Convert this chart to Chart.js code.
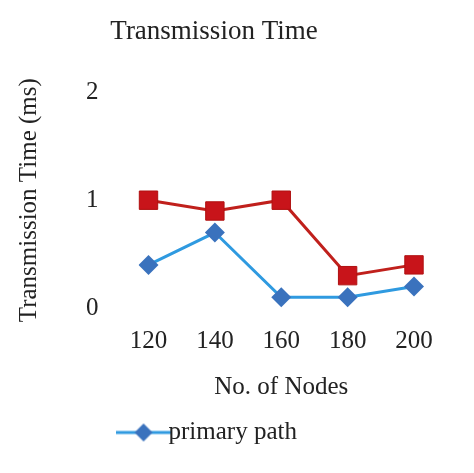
<!DOCTYPE html>
<html>
<head>
<meta charset="utf-8">
<script src="https://cdn.jsdelivr.net/npm/chart.js@4"></script>
<style>
  html, body { margin:0; padding:0; background:#fff; }
  #wrap { width:474px; height:473px; }
</style>
</head>
<body>
<div id="wrap"><canvas id="c"></canvas></div>
<script>
const nodes       = ['120', '140', '160', '180', '200'];
const primaryPath = [0.4, 0.7, 0.1, 0.1, 0.2];
const otherPath   = [1.0, 0.9, 1.0, 0.3, 0.4];
const yTicks      = [0, 1, 2];

const SERIF = '"Liberation Serif", "DejaVu Serif", serif';

// legend icon: short line with a diamond in the middle
function legendIcon() {
  const cv = document.createElement('canvas');
  cv.width = 56; cv.height = 20;
  const g = cv.getContext('2d');
  g.strokeStyle = '#2f9ae0'; g.lineWidth = 3;
  g.beginPath(); g.moveTo(0, 10); g.lineTo(56, 10); g.stroke();
  g.fillStyle = '#3a72bd';
  g.beginPath(); g.moveTo(28, 1); g.lineTo(37, 10); g.lineTo(28, 19); g.lineTo(19, 10); g.closePath(); g.fill();
  return cv;
}

new Chart(document.getElementById('c'), {
  type: 'line',
  data: {
    labels: nodes,
    datasets: [
      { label:'primary path', data: primaryPath, borderColor:'#2f9ae0', backgroundColor:'#3a72bd',
        borderWidth:3, pointStyle:'rectRot', pointRadius:10, pointHoverRadius:10, pointBorderWidth:0, tension:0 },
      { label:'other', data: otherPath, borderColor:'#c0201c', backgroundColor:'#c8141a',
        borderWidth:3, pointStyle:'rect', pointRadius:13, pointHoverRadius:13, pointBorderColor:'#b01010', pointBorderWidth:1, tension:0 }
    ]
  },
  options: {
    responsive:true, maintainAspectRatio:false, animation:false,
    layout:{ padding:{ left:14, right:60, top:14, bottom:18 } },
    plugins:{
      title:{ display:true, text:'Transmission Time', color:'#222', font:{ family:SERIF, size:27, weight:'normal' }, padding:{ top:2, bottom:44 } },
      legend:{
        position:'bottom',
        labels:{
          color:'#222', font:{ family:SERIF, size:25 }, usePointStyle:true, padding:14,
          generateLabels: () => [{ text:'primary path', pointStyle: legendIcon(), fontColor:'#222', datasetIndex:0, hidden:false, lineWidth:0 }]
        }
      },
      tooltip:{ enabled:false }
    },
    scales:{
      x:{
        grid:{ display:false }, border:{ display:false },
        ticks:{ color:'#222', font:{ family:SERIF, size:25 }, padding:10 },
        title:{ display:true, text:'No. of Nodes', color:'#222', font:{ family:SERIF, size:25 }, padding:{ top:6 } }
      },
      y:{
        min:0, max:2,
        grid:{ display:false }, border:{ display:false },
        afterBuildTicks: s => { s.ticks = yTicks.map(v => ({ value:v })); },
        ticks:{ color:'#222', font:{ family:SERIF, size:25 }, padding:42 },
        title:{ display:true, text:'Transmission Time (ms)', color:'#222', font:{ family:SERIF, size:25 }, padding:{ top:0, bottom:0 } }
      }
    }
  }
});
</script>
</body>
</html>
